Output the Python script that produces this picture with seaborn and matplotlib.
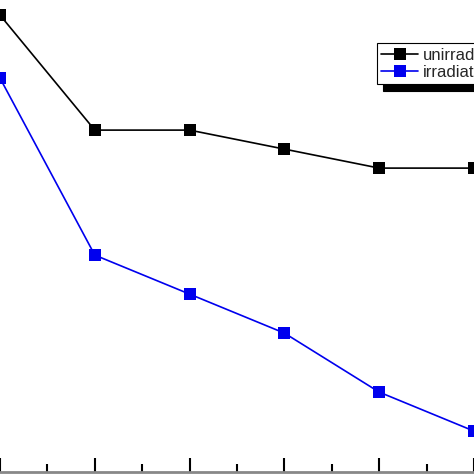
import numpy as np
import pandas as pd
import matplotlib
matplotlib.use("Agg")
import matplotlib.pyplot as plt
import seaborn as sns
from matplotlib.ticker import MultipleLocator

# ==========================================
# DATA (arbitrary units)
# ==========================================
steps = [0, 1, 2, 3, 4, 5]
unirradiated = [457, 342, 342, 323, 304, 304]
irradiated = [394, 217, 178, 139, 80, 41]

df = pd.DataFrame({"step": steps + steps,
                   "value": unirradiated + irradiated,
                   "series": ["unirradiated"] * 6 + ["irradiated"] * 6})

sns.set_style("white")
plt.rcParams["font.family"] = ["Liberation Sans", "DejaVu Sans"]
fig = plt.figure(figsize=(4.74, 4.74), dpi=100)
ax = fig.add_axes([0, 0.004, 1.0, 1.0])

sns.lineplot(data=df, x="step", y="value", hue="series",
             palette={"unirradiated": "black", "irradiated": "#0000ee"},
             marker="s", markersize=8, markeredgewidth=0, linewidth=1.2, ax=ax)

ax.set_xlim(0, 5)
ax.set_ylim(0, 474)
ax.xaxis.set_major_locator(MultipleLocator(1))
ax.xaxis.set_minor_locator(MultipleLocator(0.5))
ax.tick_params(axis="x", which="both", bottom=True, labelbottom=False)
ax.tick_params(axis="x", which="major", direction="in", length=10, width=1.5, color="black")
ax.tick_params(axis="x", which="minor", direction="in", length=6, width=1.5, color="black")
ax.set_yticks([])
ax.set_xlabel("")
ax.set_ylabel("")
for side in ["top", "right", "left"]:
    ax.spines[side].set_visible(False)
ax.spines["bottom"].set_color("#888888")
ax.spines["bottom"].set_linewidth(2)

leg = ax.legend(loc="upper left", bbox_to_anchor=(0.778, 0.922), frameon=True,
                fancybox=False, shadow={"color": "black", "ox": 4, "oy": -5, "alpha": 1},
                fontsize=12, handlelength=2.2, borderpad=0.25, labelspacing=0.15,
                handletextpad=0.3)
leg.get_frame().set_edgecolor("black")
leg.get_frame().set_linewidth(0.8)

fig.savefig("out.png", dpi=100)
